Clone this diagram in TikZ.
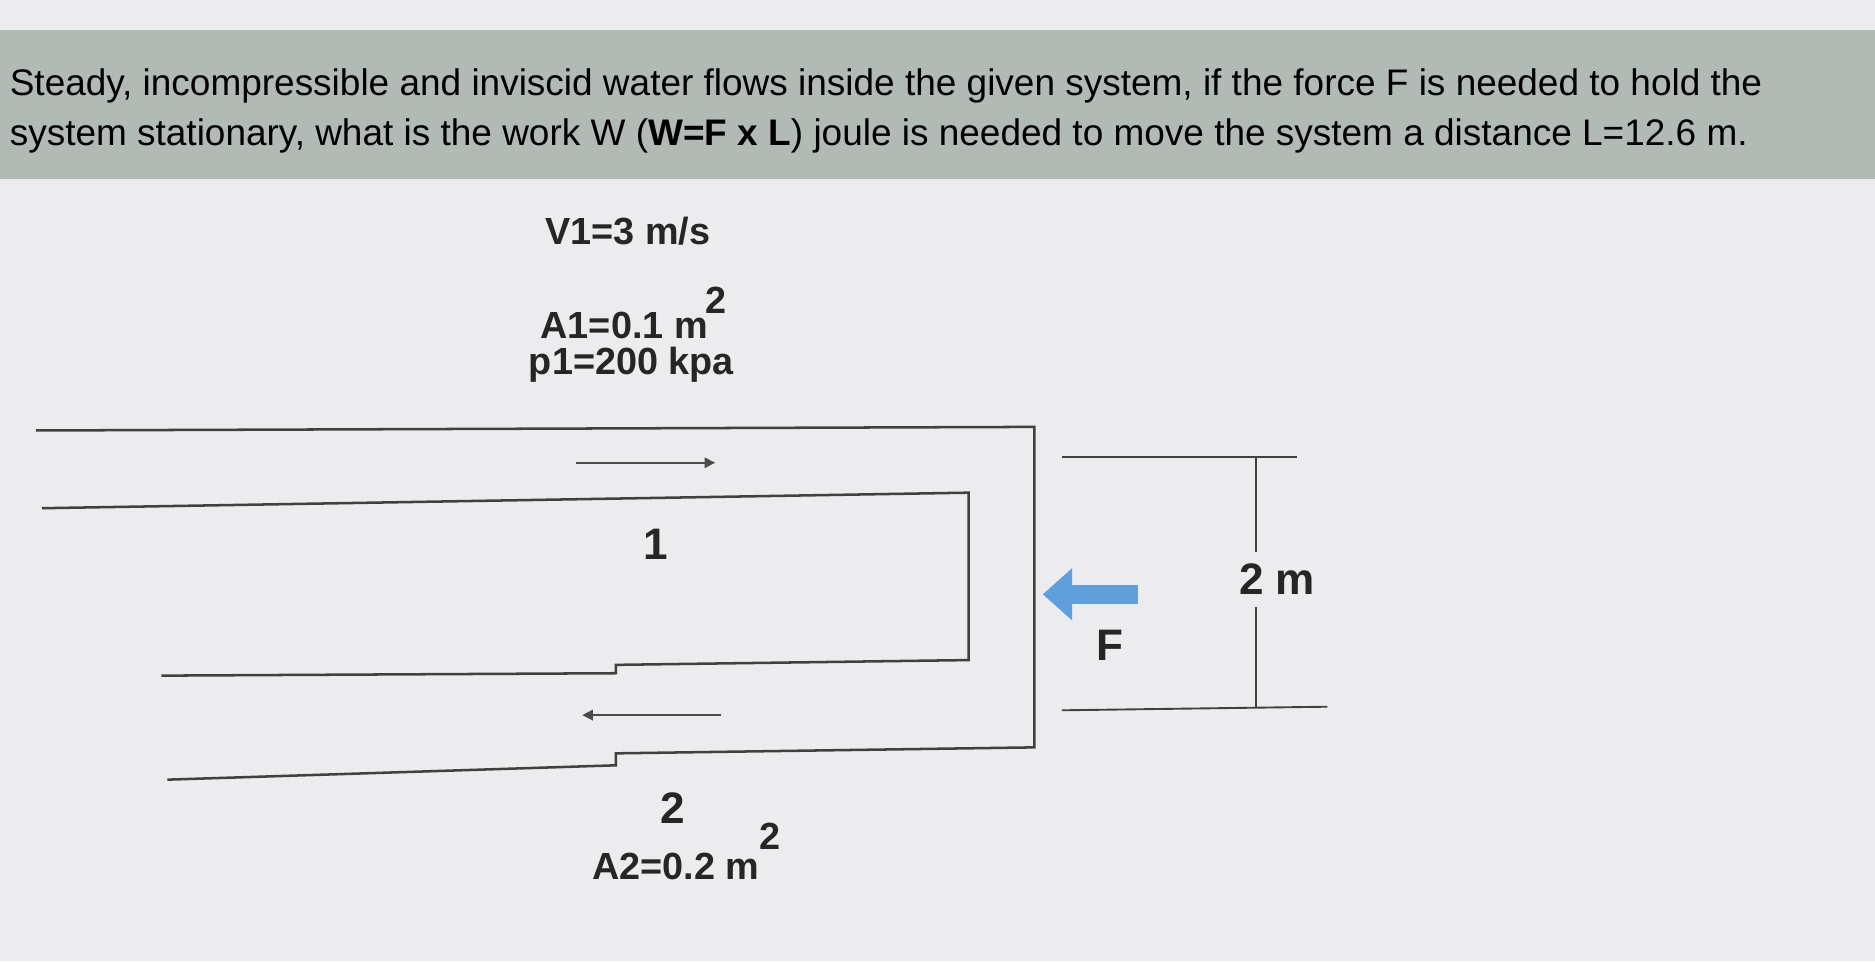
\documentclass[tikz,border=0pt]{standalone}
\usepackage{fontspec}
\setmainfont{Liberation Sans}
\usetikzlibrary{arrows.meta}
\definecolor{hdr}{RGB}{178,186,182}
\definecolor{bodybg}{RGB}{236,236,238}
\definecolor{fblue}{RGB}{95,160,220}
\tikzset{pipe/.style={line width=1.2pt,black!75},
 lbl/.style={font=\fontsize{18}{20}\selectfont\bfseries,text=black!85},
 small/.style={->,>={Triangle[length=5pt,width=5pt]},line width=0.8pt,black!70}}
\begin{document}
\begin{tikzpicture}[x=0.02cm,y=-0.02cm]
\useasboundingbox (0,0) rectangle (1568,804);
\fill[bodybg] (0,0) rectangle (1568,804);
\fill[hdr] (0,25) rectangle (1568,150);
\node[anchor=west,font=\fontsize{17.6}{20}\selectfont] (t1) at (2,72) {Steady, incompressible and inviscid water flows inside the given system, if the force F is needed to hold the};
\node[anchor=west,font=\fontsize{17.6}{20}\selectfont] (t2) at (2,114) {system stationary, what is the work W (\textbf{W=F x L}) joule is needed to move the system a distance L=12.6 m.};
\node[lbl] (v1) at (525,193) {V1=3 m/s};
\node[lbl] (a1) at (522,262) {A1=0.1 m\rlap{\raisebox{12pt}{\kern-1pt 2}}};
\node[lbl] (p1) at (528,305) {p1=200 kpa};
% outer pipe
\draw[pipe] (30,360) -- (865,357) -- (865,625) -- (515,630) -- (515,640) -- (140,652);
% inner pipe
\draw[pipe] (35,425) -- (810,412) -- (810,552) -- (515,556) -- (515,563) -- (135,565);
\coordinate (r1) at (482,387); \coordinate (r2) at (598,387);
\draw[small] (r1) -- (r2);
\coordinate (l1) at (603,598); \coordinate (l2) at (487,598);
\draw[small] (l1) -- (l2);
\node[lbl,font=\fontsize{21}{23}\selectfont\bfseries] (n1) at (548,455) {1};
\node[lbl,font=\fontsize{21}{23}\selectfont\bfseries] (n2) at (563,676) {2};
\node[lbl] (a2) at (565,712) {A2=0.2 m\rlap{\raisebox{14pt}{\kern0pt 2}}};
% force
\coordinate (fa) at (952,497); \coordinate (fb) at (872,497);
\draw[fblue,line width=9pt,-{Triangle[length=14pt,width=24pt]}] (fa) -- (fb);
\node[lbl,font=\fontsize{21}{23}\selectfont\bfseries] (F) at (928,540) {F};
% dimension
\draw[pipe,line width=0.9pt] (888,382) -- (1085,382);
\draw[pipe,line width=0.9pt] (888,594) -- (1110,591);
\node[lbl,font=\fontsize{21}{23}\selectfont\bfseries] (dim) at (1068,484) {2 m};
\draw[pipe,line width=0.9pt] (1050,382) -- (1050,462);
\draw[pipe,line width=0.9pt] (1050,508) -- (1050,592);
\end{tikzpicture}
\end{document}
